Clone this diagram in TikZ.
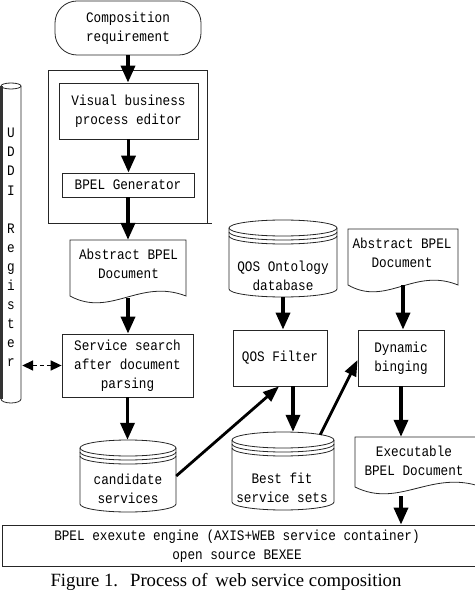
\documentclass[tikz,border=0pt]{standalone}
\usepackage{fontspec}
\setmainfont{Liberation Serif}
\setmonofont[FakeStretch=0.875]{Liberation Mono}
\usetikzlibrary{arrows.meta}
\tikzset{
  outline/.style={line width=0.8pt, draw=black!85},
  box/.style={draw=black!85, line width=0.8pt, inner sep=0pt},
  shapebox/.style={draw=none, inner sep=0pt},
  txt/.style={font=\ttfamily\fontsize{14.5pt}{19pt}\selectfont, align=center, inner sep=0pt},
  flow/.style={line width=3.5pt, -{Triangle[length=17pt,width=14pt]}},
  diag/.style={line width=2.8pt, -{Triangle[length=16pt,width=12pt]}},
  dbl/.style={line width=1.6pt, dash pattern=on 4pt off 3pt, {Triangle[length=11pt,width=10pt]}-{Triangle[length=11pt,width=10pt]}},
}
% document shape: x1 x2 top bottom (pixel units, y downward)
\newcommand\docshape[4]{%
  \draw[outline] (#1,-#3) -- (#2,-#3) -- (#2,-#4)
    .. controls ({#2-0.4*(#2-#1)},{-#4+18}) and ({#1+0.35*(#2-#1)},{-#4-22}) .. (#1,-#4) -- cycle;}
% database shape: x1 x2 top bottom ry
\newcommand\dbshape[5]{%
  \pgfmathsetmacro\dbcx{(#1+#2)/2}\pgfmathsetmacro\dbrx{(#2-#1)/2}%
  \draw[outline] (\dbcx,-#3-#5) ellipse[x radius=\dbrx pt, y radius=#5pt];
  \draw[outline] (#1,-#3-#5-4) arc[start angle=180,end angle=360,x radius=\dbrx pt,y radius=#5pt];
  \draw[outline] (#1,-#3-#5-8) arc[start angle=180,end angle=360,x radius=\dbrx pt,y radius=#5pt];
  \draw[outline] (#1,-#3-#5) -- (#1,-#4+#5) arc[start angle=180,end angle=360,x radius=\dbrx pt,y radius=#5pt] -- (#2,-#3-#5);}
\begin{document}
\begin{tikzpicture}[x=1pt,y=1pt]
\useasboundingbox (0,0) rectangle (474,-593);

% top part
\node[box, txt, rounded corners=22pt, minimum width=146pt, minimum height=54pt] (comp) at (128,-28) {Composition\\requirement};
\node[box, minimum width=159pt, minimum height=153pt] (outer) at (127.5,-146.5) {};
\draw[outline] (outer.south east) -- ++(5,0);
\node[box, txt, minimum width=139pt, minimum height=56pt] (vis) at (128.5,-111) {Visual business\\process editor};
\node[box, txt, minimum width=132pt, minimum height=24pt] (gen) at (128,-185) {BPEL Generator};

% UDDI register
\draw[outline] (11,-86) ellipse[x radius=10pt, y radius=3pt];
\draw[outline] (21,-86) -- (21,-399) arc[start angle=0,end angle=-180,x radius=10pt,y radius=4pt];
\draw[line width=2.6pt, black!80] (1.5,-86) -- (1.5,-399);
\node[shapebox, minimum width=22pt, minimum height=320pt] (uddi) at (11,-243) {};
\node[txt, font=\ttfamily\fontsize{14.5pt}{19.08pt}\selectfont] (uddit) at (11,-247.5) {U\\D\\D\\I\\\mbox{}\\R\\e\\g\\i\\s\\t\\e\\r};

% left column
\docshape{70}{186}{240}{296}
\node[shapebox, minimum width=116pt, minimum height=56pt] (abs1) at (128,-268) {};
\node[txt] (abs1t) at (128.5,-263.5) {Abstract BPEL\\Document};
\node[box, txt, minimum width=131pt, minimum height=63pt] (ss) at (127.5,-365.5) {Service search\\after document\\parsing};
\dbshape{80}{176}{440}{512}{8}
\node[shapebox, minimum width=96pt, minimum height=72pt] (cand) at (128,-476) {};
\node[txt] (candt) at (128,-489) {candidate\\services};

% middle column
\dbshape{229}{337}{220}{297}{8}
\node[shapebox, minimum width=108pt, minimum height=77pt] (qdb) at (283,-258.5) {};
\node[txt] (qdbt) at (283,-276) {QOS Ontology\\database};
\node[box, txt, minimum width=94pt, minimum height=56pt] (qosf) at (280,-358) {QOS Filter};
\dbshape{232}{334}{432}{510}{8}
\node[shapebox, minimum width=102pt, minimum height=78pt] (best) at (283,-471) {};
\node[txt] (bestt) at (282,-487.5) {Best fit\\service sets};

% right column
\docshape{348}{458}{229}{285}
\node[shapebox, minimum width=110pt, minimum height=56pt] (abs2) at (403,-257) {};
\node[txt] (abs2t) at (402,-252.5) {Abstract BPEL\\Document};
\node[box, txt, minimum width=86pt, minimum height=56pt] (dyn) at (401,-358) {Dynamic\\binging};
\docshape{355}{482}{437}{487}
\node[shapebox, minimum width=127pt, minimum height=50pt] (exec) at (418.5,-462) {};
\node[txt] (exect) at (414,-460.5) {Executable\\BPEL Document};

% engine
\node[box, minimum width=490pt, minimum height=41pt] (eng) at (247,-545.5) {};
\node[txt] (engt) at (237,-546) {BPEL exexute engine (AXIS+WEB service container)\\open source BEXEE};

% caption
\node[font=\fontsize{18.7pt}{21pt}\selectfont, inner sep=0pt] (cap) at (226,-582) {Figure 1.\hspace{12pt}Process of\hspace{8pt}web service composition};

% connectors
\draw[flow] (comp.south) -- (comp.south |- vis.north);
\draw[flow] (vis.south) -- (vis.south |- gen.north);
\draw[flow] (gen.south) -- (gen.south |- abs1.north);
\draw[flow] ([yshift=-2pt]abs1.south) -- (abs1.south |- ss.north);
\draw[flow] (ss.south) -- (ss.south |- cand.north);
\draw[flow] (qdb.south) -- (qdb.south |- qosf.north);
\coordinate (qb) at ([xshift=13pt]qosf.south);
\draw[flow] (qb) -- (qb |- best.north);
\draw[flow] (abs2.south) -- (abs2.south |- dyn.north);
\draw[flow] (dyn.south) -- (dyn.south |- exec.north);
\coordinate (ex0) at (dyn.south |- exec.south);
\coordinate (ex1) at ([yshift=-9pt]ex0);
\draw[flow] (ex1) -- (ex1 |- eng.north);
\draw[diag] (cand.east) -- ([xshift=-1pt]qosf.south);
\coordinate (bf) at ([xshift=-14pt,yshift=-3pt]best.north east);
\draw[diag] (bf) -- ([yshift=-2pt]dyn.west);
\draw[dbl] (ss.west -| uddi.east) -- (ss.west);
\end{tikzpicture}
\end{document}
